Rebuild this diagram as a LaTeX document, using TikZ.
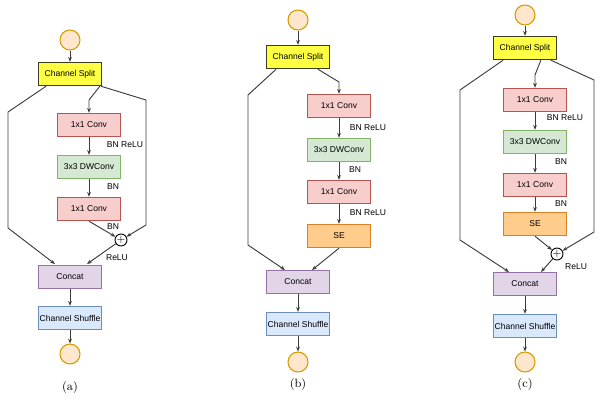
\documentclass[tikz,border=0pt]{standalone}
\usepackage{fontspec}
\setsansfont{Liberation Sans}
\usetikzlibrary{arrows.meta}
\begin{document}
\begin{tikzpicture}[x=0.75pt,y=-0.75pt,
  bx/.style={draw,minimum width=47pt,minimum height=17.5pt,inner sep=0pt,font=\sffamily\fontsize{6.4}{7}\selectfont,line width=0.8pt},
  split/.style={bx,fill={rgb,255:red,255;green,255;blue,68},draw={rgb,255:red,60;green,60;blue,30}},
  red/.style={bx,fill={rgb,255:red,248;green,206;blue,204},draw={rgb,255:red,184;green,84;blue,80}},
  grn/.style={bx,fill={rgb,255:red,213;green,232;blue,212},draw={rgb,255:red,130;green,179;blue,102}},
  se/.style={bx,fill={rgb,255:red,255;green,204;blue,140},draw={rgb,255:red,215;green,130;blue,40}},
  pur/.style={bx,fill={rgb,255:red,225;green,213;blue,231},draw={rgb,255:red,150;green,115;blue,166}},
  blu/.style={bx,fill={rgb,255:red,218;green,232;blue,252},draw={rgb,255:red,108;green,142;blue,191}},
  io/.style={circle,minimum size=15pt,inner sep=0pt,fill={rgb,255:red,255;green,230;blue,204},draw={rgb,255:red,215;green,155;blue,0},line width=0.8pt},
  pl/.style={circle,draw,minimum size=9pt,inner sep=0pt,font=\fontsize{8}{8}\selectfont,line width=0.7pt},
  lb/.style={font=\sffamily\fontsize{6.4}{7}\selectfont},
  captxt/.style={font=\fontsize{9}{10}\selectfont},
  ar/.style={-{Stealth[length=3.6pt,width=2.8pt]},draw={rgb,255:red,60;green,60;blue,60},line width=0.7pt}]
\useasboundingbox (0,0) rectangle (606,400);
% (a)
\node[io] (ai) at (70,40) {};
\node[split] (as) at (70,74) {Channel Split};
\node[red] (ac1) at (89,125) {1x1 Conv};
\node[grn] (adw) at (89,167) {3x3 DWConv};
\node[red] (ac2) at (89,209) {1x1 Conv};
\node[pl] (ap) at (121,240) {$+$};
\node[pur] (acc) at (70,277) {Concat};
\node[blu] (ash) at (70,318) {Channel Shuffle};
\node[io] (ao) at (70,354) {};
\node[captxt] (acap) at (70,387) {(a)};
\node[lb] (al1) at (125,145) {BN ReLU};
\node[lb] (al2) at (113,187) {BN};
\node[lb] (al3) at (113,227) {BN};
\node[lb] (al4) at (117,258) {ReLU};
\draw[ar] (ai) -- (as);
\draw[ar] (as.south west) ++(8,0) -- (8,112) -- (8,228) -- (55,264);
\draw[ar] (as.south east) ++(-1,0) -- (146,100) -- (146,225) -- (ap);
\draw[ar] (as.south east) ++(-2,0) -- (89,100) -- (ac1);
\draw[ar] (ac1) -- (adw);
\draw[ar] (adw) -- (ac2);
\draw[ar] (ac2.south) -- (ap);
\draw[ar] (ap) -- (87,264);
\draw[ar] (acc) -- (ash);
\draw[ar] (ash) -- (ao);
% (b)
\node[io] (bi) at (298,20) {};
\node[split] (bs) at (298,57) {Channel Split};
\node[red] (bc1) at (339,106) {1x1 Conv};
\node[grn] (bdw) at (339,150) {3x3 DWConv};
\node[red] (bc2) at (339,192) {1x1 Conv};
\node[se] (bse) at (339,236) {SE};
\node[pur] (bcc) at (298,282) {Concat};
\node[blu] (bsh) at (298,324) {Channel Shuffle};
\node[io] (bo) at (298,362) {};
\node[captxt] (bcap) at (298,384) {(b)};
\node[lb] (bl1) at (368,128) {BN ReLU};
\node[lb] (bl2) at (355,170) {BN};
\node[lb] (bl3) at (368,213) {BN ReLU};
\draw[ar] (bi) -- (bs);
\draw[ar] (bs.south west) ++(10,0) -- (248,95) -- (248,245) -- (285,270);
\draw[ar] (bs.south east) ++(-12,0) -- (339,82) -- (bc1);
\draw[ar] (bc1) -- (bdw);
\draw[ar] (bdw) -- (bc2);
\draw[ar] (bc2) -- (bse);
\draw[ar] (bse.south) -- (312,270);
\draw[ar] (bcc) -- (bsh);
\draw[ar] (bsh) -- (bo);
% (c)
\node[io] (ci) at (525,15) {};
\node[split] (cs) at (525,48) {Channel Split};
\node[red] (cc1) at (535,100) {1x1 Conv};
\node[grn] (cdw) at (535,142) {3x3 DWConv};
\node[red] (cc2) at (535,185) {1x1 Conv};
\node[se] (cse) at (535,224) {SE};
\node[pl] (cp) at (557,254) {$+$};
\node[pur] (ccc) at (525,284) {Concat};
\node[blu] (csh) at (525,326) {Channel Shuffle};
\node[io] (co) at (525,362) {};
\node[captxt] (ccap) at (525,384) {(c)};
\node[lb] (cl1) at (565,118) {BN ReLU};
\node[lb] (cl2) at (561,162) {BN};
\node[lb] (cl3) at (561,204) {BN};
\node[lb] (cl4) at (576,267) {ReLU};
\draw[ar] (ci) -- (cs);
\draw[ar] (cs.south west) ++(10,0) -- (460,90) -- (460,240) -- (509,272);
\draw[ar] (cs.south east) ++(-6,0) -- (594,80) -- (594,232) -- (cp);
\draw[ar] (cs.south east) ++(-16,0) -- (535,75) -- (cc1);
\draw[ar] (cc1) -- (cdw);
\draw[ar] (cdw) -- (cc2);
\draw[ar] (cc2) -- (cse);
\draw[ar] (cse.south) -- (cp);
\draw[ar] (cp) -- (541,272);
\draw[ar] (ccc) -- (csh);
\draw[ar] (csh) -- (co);
\end{tikzpicture}
\end{document}
